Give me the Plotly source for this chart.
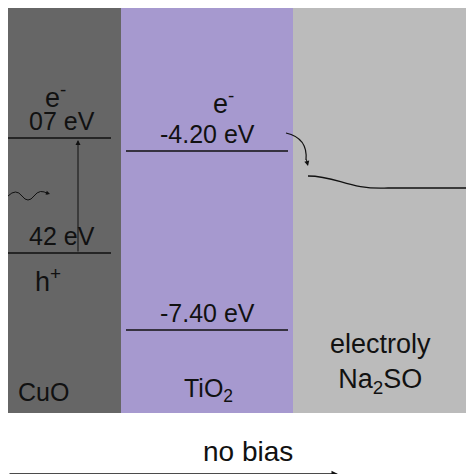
import plotly.graph_objects as go

regions = ["CuO", "TiO<sub>2</sub>", "electroly<br>Na<sub>2</sub>SO"]
region_x = [(0, 113), (113, 285), (285, 474)]
region_colors = ["#666666", "#a699cf", "#bbbbbb"]
level_labels = ["07 eV", "42 eV", "-4.20 eV", "-7.40 eV"]
level_y = [130, 245, 143, 322]
level_x = [(0, 103), (0, 103), (118, 280), (118, 280)]

fig = go.Figure()
shapes, ann = [], []
F = dict(family="Liberation Sans, Arial", size=25, color="#111")
for (x0, x1), c in zip(region_x, region_colors):
    shapes.append(dict(type="rect", x0=x0, x1=x1, y0=0, y1=405, fillcolor=c, line_width=0, layer="below"))
for (x0, x1), y, t in zip(level_x, level_y, level_labels):
    shapes.append(dict(type="line", x0=x0, x1=x1, y0=y, y1=y, line=dict(color="#111", width=1.5)))
    ann.append(dict(x=(x0 + x1) / 2 + (2 if x0 == 0 else 0), y=y - 1, text=t, showarrow=False, yanchor="bottom", font=F))
ann += [
    dict(x=47, y=88, text="e<sup>-</sup>", showarrow=False, font=dict(F, size=27)),
    dict(x=40, y=272, text="h<sup>+</sup>", showarrow=False, font=dict(F, size=27)),
    dict(x=215, y=94, text="e<sup>-</sup>", showarrow=False, font=dict(F, size=27)),
    dict(x=35, y=384, text="CuO", showarrow=False, font=F),
    dict(x=200, y=382, text="TiO<sub>2</sub>", showarrow=False, font=F),
    dict(x=320, y=355, text="electroly<br>Na<sub>2</sub>SO", showarrow=False, xanchor="left", align="center", font=dict(F, size=27)),
    dict(x=240, y=443, text="no bias", showarrow=False, font=dict(F, size=28)),
    dict(x=70, y=132, ax=70, ay=245, xref="x", yref="y", axref="x", ayref="y", text="", showarrow=True, arrowhead=2, arrowsize=1, arrowwidth=1, arrowcolor="#111"),
    dict(x=330, y=466, ax=0, ay=466, xref="x", yref="y", axref="x", ayref="y", text="", showarrow=True, arrowhead=2, arrowsize=1, arrowwidth=1.3, arrowcolor="#111"),
    dict(x=300, y=158, ax=298, ay=150, xref="x", yref="y", axref="x", ayref="y", text="", showarrow=True, arrowhead=2, arrowsize=1, arrowwidth=1, arrowcolor="#111"),
]
shapes.append(dict(type="path", path="M 278 125 Q 300 130 298 152", line=dict(color="#111", width=1.2)))
shapes.append(dict(type="path", path="M 300 168 C 330 168 340 182 380 180 L 474 180", line=dict(color="#111", width=1.3)))
shapes.append(dict(type="path", path="M 0 188 Q 8 180 14 188 Q 20 196 26 188 Q 32 180 40 186", line=dict(color="#111", width=1)))
ann.append(dict(x=42, y=186, ax=36, ay=184, xref="x", yref="y", axref="x", ayref="y", text="", showarrow=True, arrowhead=2, arrowsize=0.8, arrowwidth=1, arrowcolor="#111"))

fig.update_layout(width=474, height=474, margin=dict(l=0, r=0, t=0, b=0), plot_bgcolor="white", paper_bgcolor="white",
                  shapes=shapes, annotations=ann, showlegend=False,
                  xaxis=dict(range=[0, 474], visible=False, fixedrange=True),
                  yaxis=dict(range=[474, 0], visible=False, fixedrange=True))
fig.write_html("out.html")
